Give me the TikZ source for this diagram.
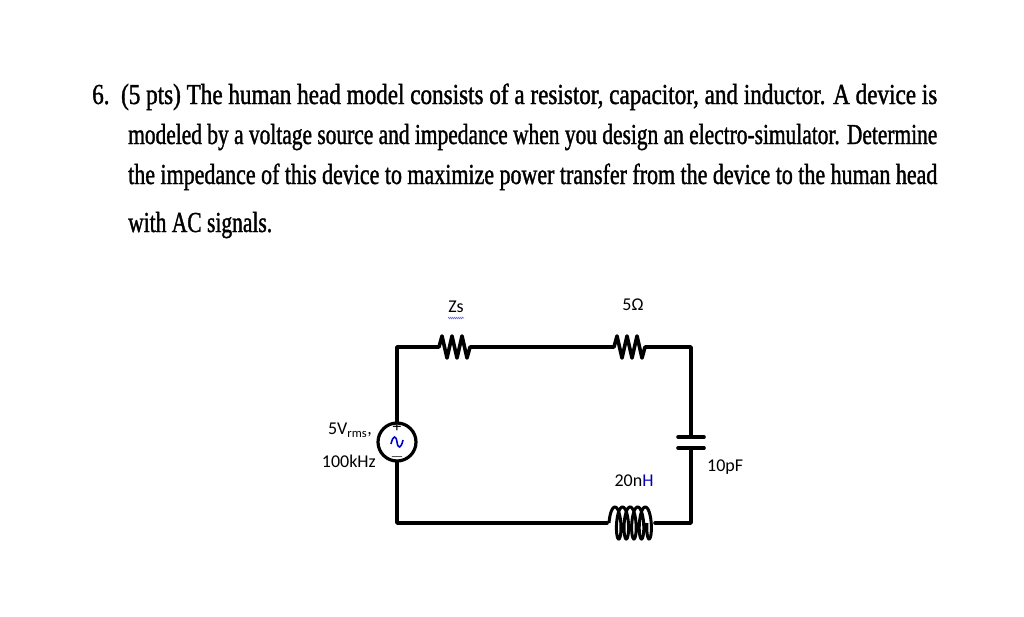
\documentclass[tikz,border=0pt]{standalone}
\usepackage{fontspec}
\usepackage{graphicx}
\usetikzlibrary{decorations.pathmorphing}
\setmainfont{Liberation Serif}
\newfontfamily\cond[FakeStretch=0.72,FakeBold=1.2]{Liberation Serif}
\newfontfamily\lab{Carlito}
\begin{document}
\begin{tikzpicture}[x=1pt,y=-1pt,
  wire/.style={line width=3.6pt,line cap=round,line join=round},
  txt/.style={anchor=base west,inner sep=0pt,font=\cond\fontsize{29}{32}\selectfont},
  clab/.style={inner sep=0pt,font=\lab\fontsize{18}{20}\selectfont}]
\useasboundingbox (0,0) rectangle (1024,616);
\node[txt] (l1) at (92,104) {\resizebox{845pt}{\height}{6.\ \ (5 pts) The human head model consists of a resistor, capacitor, and inductor. A device is}};
\node[txt] (l2) at (128,144) {\resizebox{809pt}{\height}{modeled by a voltage source and impedance when you design an electro-simulator. Determine}};
\node[txt] (l3) at (128,184) {\resizebox{809pt}{\height}{the impedance of this device to maximize power transfer from the device to the human head}};
\node[txt] (l4) at (128,232) {\resizebox{144pt}{\height}{with AC signals.}};
% coordinates
\coordinate (tl) at (397,347);
\coordinate (tr) at (691,347);
\coordinate (bl) at (397,523);
\coordinate (br) at (691,523);
\node[circle,draw,line width=3.2pt,minimum size=38pt,inner sep=0pt] (src) at (397,442) {};
\node[font=\bfseries\fontsize{17}{17}\selectfont,inner sep=0pt] (plus) at (397,428) {+};
\node[font=\bfseries\fontsize{17}{17}\selectfont,inner sep=0pt] (minus) at (397,457) {$-$};
\draw[blue!80!black,line width=1.6pt] (391,444) .. controls (393,435) and (396,435) .. (397,442) .. controls (398,449) and (401,449) .. (403,440);
\coordinate (r1a) at (435,347); \coordinate (r1b) at (478,347);
\coordinate (r2a) at (610,347); \coordinate (r2b) at (652,347);
\coordinate (c1) at (691,437); \coordinate (c2) at (691,448);
\coordinate (i1) at (655,523); \coordinate (i2) at (607,523);
\draw[wire] (src.north) -- (tl) -- (r1a);
\draw[wire] (r1a) -- ++(4,0) -- ++(3,-11) -- ++(5,22) -- ++(5,-22) -- ++(5,22) -- ++(5,-22) -- ++(5,22) -- ++(3,-11) -- (r1b);
\draw[wire] (r1b) -- (r2a);
\draw[wire] (r2a) -- ++(4,0) -- ++(3,-11) -- ++(5,22) -- ++(5,-22) -- ++(5,22) -- ++(5,-22) -- ++(5,22) -- ++(3,-11) -- (r2b);
\draw[wire] (r2b) -- (tr) -- (c1);
\draw[wire] (678,437) -- (704,437);
\draw[wire] (678,448) -- (704,448);
\draw[wire] (c2) -- (br) -- (i1);
\draw[line width=3pt,domain=0:31.4159,samples=250,variable=\t]
  plot ({609+ \t*38/31.4159 + 4 - 4*cos(\t r)}, {523 - 16*sin(\t r)});
\draw[wire] (i2) -- (bl) -- (src.south);
% labels
\node[clab] (zs) at (456,307) {Zs};
\draw[blue!60,line width=0.6pt,decorate,decoration={snake,amplitude=0.8pt,segment length=2pt}] (448,318) -- (464,318);
\node[clab] (r5) at (633,305) {5Ω};
\node[clab,anchor=east] (v) at (372,430) {5V\textsubscript{rms},};
\node[clab,anchor=east] (f) at (376,461) {100kHz};
\node[clab] (ind) at (634,481) {20n\textcolor{blue!70!black}{H}};
\node[clab,anchor=west] (cap) at (707,467) {10pF};
\end{tikzpicture}
\end{document}
